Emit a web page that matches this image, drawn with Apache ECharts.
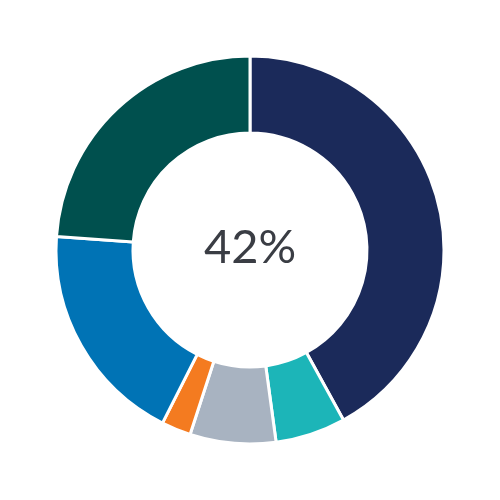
<!DOCTYPE html>
<html>
<head>
<meta charset="utf-8">
<script src="https://cdn.jsdelivr.net/npm/echarts@6/dist/echarts.min.js"></script>
<style>html,body{margin:0;padding:0;background:#fff}#c{width:500px;height:500px}</style>
</head>
<body>
<div id="c"></div>
<script>
const categories = ['A', 'B', 'C', 'D', 'E', 'F'];
const values = [42, 5.85, 7.15, 2.45, 18.65, 23.9];
const colors = ['#1b2a5a', '#1cb5b8', '#a8b3c1', '#f47b20', '#0073b5', '#00504e'];
const centerLabel = '42%';

const chart = echarts.init(document.getElementById('c'));
chart.setOption({
  animation: false,
  title: {
    text: centerLabel,
    left: 'center',
    top: 219,
    textStyle: { fontFamily: 'Lato', fontWeight: 400, fontSize: 47, color: '#3a3d44' }
  },
  series: [{
    type: 'pie',
    center: [250, 250],
    radius: [117, 194],
    startAngle: 90,
    clockwise: true,
    label: { show: false },
    labelLine: { show: false },
    itemStyle: { borderColor: '#fff', borderWidth: 3 },
    emphasis: { disabled: true },
    data: categories.map((c, i) => ({ name: c, value: values[i], itemStyle: { color: colors[i] } }))
  }]
});
</script>
</body>
</html>
